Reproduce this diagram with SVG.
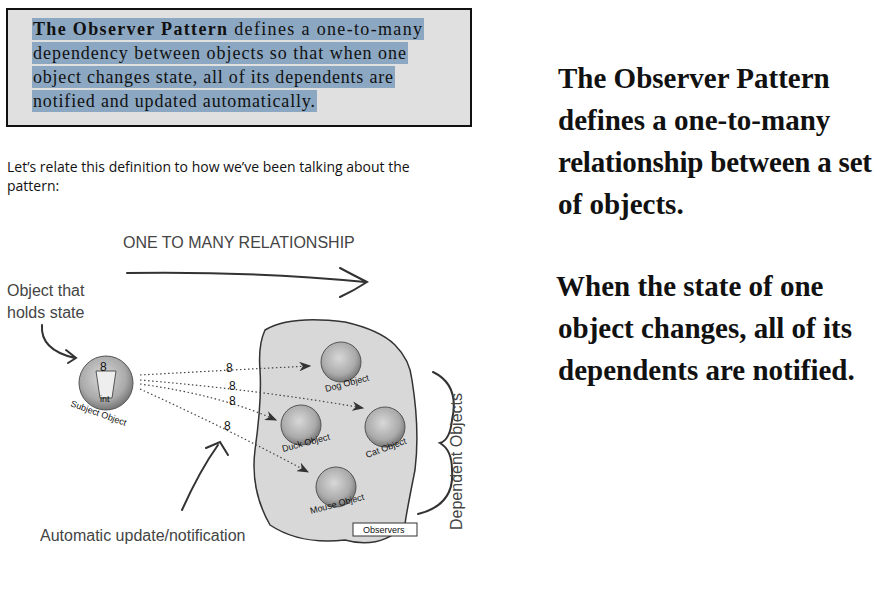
<svg xmlns="http://www.w3.org/2000/svg" width="880" height="589" viewBox="0 0 880 589">
<style>
.def{font-family:"Liberation Serif",serif;font-size:18px;fill:#111}
.big{font-family:"Liberation Serif",serif;font-size:29px;font-weight:bold;fill:#111}
.hand{font-family:"Liberation Sans",sans-serif;font-size:16px;fill:#444}
.sm{font-family:"Liberation Sans",sans-serif;font-size:9px;fill:#111}
.num{font-family:"Liberation Sans",sans-serif;font-size:12px;fill:#111}
.dot{stroke:#444;stroke-width:1.2;stroke-dasharray:1.5 2.5;fill:none;marker-end:url(#ah)}
.sk{stroke:#333;stroke-width:2;fill:none;stroke-linecap:round}
.ball{fill:url(#g);stroke:#555;stroke-width:1}
</style>
<defs>
<marker id="ah" markerWidth="10" markerHeight="8" refX="9" refY="4" orient="auto"><path d="M0,0 L10,4 L0,8 L3,4Z" fill="#333"/></marker>
<radialGradient id="g" cx="0.45" cy="0.4" r="0.6"><stop offset="0" stop-color="#d8d8d8"/><stop offset="0.7" stop-color="#aaa"/><stop offset="1" stop-color="#777"/></radialGradient>
</defs>
<rect width="880" height="589" fill="#fff"/>
<g id="definition">
<rect x="7" y="9" width="464" height="117" fill="#e0e0e0" stroke="#111" stroke-width="2"/>
<rect x="32" y="18" width="392" height="22" fill="#8ba7c2"/>
<rect x="32" y="42" width="376" height="22" fill="#8ba7c2"/>
<rect x="32" y="66" width="363" height="22" fill="#8ba7c2"/>
<rect x="32" y="90" width="285" height="22" fill="#8ba7c2"/>
<text class="def" x="33" y="35" textLength="389" lengthAdjust="spacing"><tspan font-weight="bold">The Observer Pattern</tspan> defines a one-to-many</text>
<text class="def" x="33" y="59" textLength="373" lengthAdjust="spacing">dependency between objects so that when one</text>
<text class="def" x="33" y="83" textLength="360" lengthAdjust="spacing">object changes state, all of its dependents are</text>
<text class="def" x="33" y="107" textLength="282" lengthAdjust="spacing">notified and updated automatically.</text>
</g>
<text x="7" y="172" font-family="Open Sans,sans-serif" font-size="14" fill="#111">Let’s relate this definition to how we’ve been talking about the</text>
<text x="7" y="191" font-family="Open Sans,sans-serif" font-size="14" fill="#111">pattern:</text>
<g id="summary">
<text class="big" x="558" y="88">The Observer Pattern</text>
<text class="big" x="558" y="130">defines a one-to-many</text>
<text class="big" x="558" y="172" textLength="314">relationship between a set</text>
<text class="big" x="558" y="214">of objects.</text>
<text class="big" x="556" y="296">When the state of one</text>
<text class="big" x="558" y="338">object changes, all of its</text>
<text class="big" x="558" y="380">dependents are notified.</text>
</g>
<g id="annotations">
<text class="hand" x="123" y="248">ONE TO MANY RELATIONSHIP</text>
<path class="sk" d="M127,273 Q250,271 365,282 M340,268 Q355,276 367,282 Q355,290 340,297"/>
<text class="hand" x="7" y="296">Object that</text>
<text class="hand" x="7" y="318">holds state</text>
<path class="sk" d="M42,325 Q40,350 75,358 M66,350 L76,358 L68,363"/>
<text class="hand" x="40" y="541">Automatic update/notification</text>
<path class="sk" d="M182,510 Q200,470 218,445 M206,448 L220,442 L228,455"/>
<path class="sk" d="M433,372 Q460,385 452,420 Q450,440 440,443 Q452,450 452,470 Q455,505 418,514"/>
<text class="hand" transform="translate(462,530) rotate(-90)">Dependent Objects</text>
</g>
<g id="subject">
<circle class="ball" cx="106" cy="383" r="27"/>
<path d="M96,371 L116,371 L112,398 L100,398Z" fill="#eee" stroke="#555"/>
<text class="num" x="100" y="371">8</text>
<text class="sm" x="100" y="402" font-size="7">int</text>
<text class="sm" font-size="11" transform="translate(70,406) rotate(20)">Subject Object</text>
</g>
<g id="observers">
<path d="M265,330 Q290,315 345,322 Q380,330 395,345 Q410,360 412,380 Q420,430 415,470 Q405,520 405,525 Q380,550 345,540 Q300,545 270,525 Q250,490 255,450 Q262,400 260,370 Q258,345 265,330Z" fill="#d8d8d8" stroke="#333" stroke-width="1.5"/>
<g id="dog"><circle class="ball" cx="341" cy="362" r="20"/><text class="sm" transform="translate(326,392) rotate(-15)">Dog Object</text></g>
<g id="cat"><circle class="ball" cx="385" cy="427" r="20"/><text class="sm" transform="translate(367,458) rotate(-20)">Cat Object</text></g>
<g id="duck"><circle class="ball" cx="301" cy="425" r="20"/><text class="sm" transform="translate(283,452) rotate(-15)">Duck Object</text></g>
<g id="mouse"><circle class="ball" cx="336" cy="487" r="20"/><text class="sm" transform="translate(311,514) rotate(-15)">Mouse Object</text></g>
<g id="obsbox"><rect x="353" y="523" width="64" height="13" fill="#fff" stroke="#333"/><text class="sm" x="363" y="533">Observers</text></g>
</g>
<g id="connectors">
<path class="dot" d="M140,375 Q230,370 310,366"/>
<path class="dot" d="M140,380 Q260,390 363,408"/>
<path class="dot" d="M140,384 Q220,395 276,420"/>
<path class="dot" d="M140,389 Q230,430 308,472"/>
<text class="num" x="226" y="372">8</text>
<text class="num" x="229" y="390">8</text>
<text class="num" x="229" y="405">8</text>
<text class="num" x="224" y="430">8</text>
</g>
</svg>
